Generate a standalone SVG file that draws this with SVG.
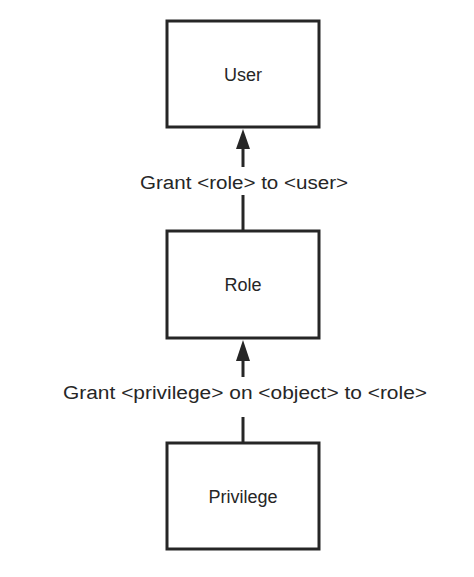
<svg xmlns="http://www.w3.org/2000/svg" width="474" height="577" viewBox="0 0 474 577">
<defs>
<style>
.box{fill:#fff;stroke:#262626;stroke-width:3}
.lbl{font-family:"Liberation Sans",Arial,sans-serif;font-size:18px;fill:#262626;text-anchor:middle}
.edge{stroke:#262626;stroke-width:3;fill:none}
.head{fill:#262626}
</style>
</defs>
<rect width="474" height="577" fill="#fff"/>
<g id="connectors">
<line class="edge" x1="243" y1="231" x2="243" y2="195"/>
<line class="edge" x1="243" y1="167" x2="243" y2="146"/>
<polygon class="head" points="243,129 236,149 250,149"/>
<text class="lbl" x="244" y="189" textLength="208" lengthAdjust="spacingAndGlyphs">Grant &lt;role&gt; to &lt;user&gt;</text>
<line class="edge" x1="243" y1="443" x2="243" y2="417"/>
<line class="edge" x1="243" y1="377" x2="243" y2="358"/>
<polygon class="head" points="243,340 236,361 250,361"/>
<text class="lbl" x="245" y="399" textLength="364" lengthAdjust="spacingAndGlyphs">Grant &lt;privilege&gt; on &lt;object&gt; to &lt;role&gt;</text>
</g>
<g id="user">
<rect class="box" x="167" y="21" width="152" height="106"/>
<text class="lbl" x="243" y="81">User</text>
</g>
<g id="role">
<rect class="box" x="167" y="231" width="152" height="107"/>
<text class="lbl" x="243" y="291">Role</text>
</g>
<g id="privilege">
<rect class="box" x="167" y="443" width="152" height="106"/>
<text class="lbl" x="243" y="503">Privilege</text>
</g>
</svg>
